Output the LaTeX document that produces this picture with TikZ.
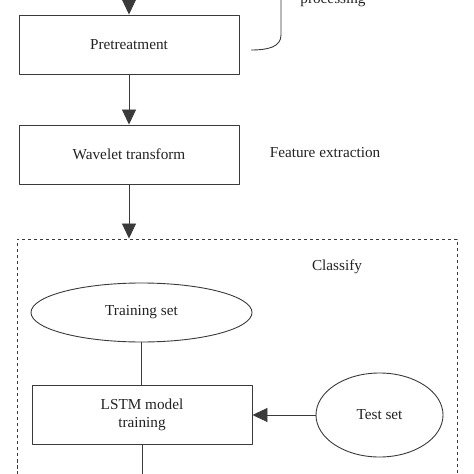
\documentclass[tikz,border=0pt]{standalone}
\usepackage{fontspec}
\setmainfont{Liberation Serif}
\usetikzlibrary{arrows.meta,shapes.geometric}
\definecolor{ink}{HTML}{222222}
\definecolor{lead}{HTML}{3A3A3A}
\tikzset{flow/.style={x=1bp,y=-1bp,line join=round,>={Triangle[width=14bp,length=15bp]}},
  link/.style={draw=lead,line width=0.9bp},
  stage/.style={link,minimum width=220bp,minimum height=59bp,align=center,text=ink,font=\fontsize{15.3}{18}\selectfont},
  pool/.style={stage,ellipse,inner sep=0pt},
  note/.style={text=ink,font=\fontsize{15.3}{18}\selectfont}}

\begin{document}
\begin{tikzpicture}[flow]
  \useasboundingbox(0,0)rectangle(474,474);\clip(0,0)rectangle(474,474);
  % main chain
  \node[stage](pre)at(129,44.5){Pretreatment};
  \node[stage](wav)at(129,154.5){Wavelet transform};
  \node[note](feat)at(325,153){Feature extraction};
  \node[note,anchor=base](proc)at(333,4){processing};
  % classify block
  \node[link,dash pattern=on 3.5bp off 2.5bp,minimum width=440bp,minimum height=280bp](cls)at(237,379){};
  \node[note](clsname)at(337,267){Classify};
  \node[pool,minimum width=221bp](train)at(141.5,312.5){Training set};
  \node[stage](lstm)at(142,414.5){LSTM model\\training};
  \node[pool,minimum width=127bp,minimum height=84bp](test)at(379.5,415){Test set};
  \coordinate(in)at(129,-20);\coordinate(out)at(142,490);\coordinate(brk)at(281,-10);
  \draw[link,->](in)--(pre.north);
  \draw[link,->](pre)--(wav);
  \draw[link,->](wav.south)--(wav.south|-cls.north);
  \draw[link](train.south)--(train.south|-lstm.north);
  \draw[link,->](test.west)--(test.west-|lstm.east);
  \draw[link](lstm.south)--(lstm.south|-out);
  \draw[link](brk)--(281,35)..controls(281,47)and(268,50)..(251,50);
\end{tikzpicture}
\end{document}
